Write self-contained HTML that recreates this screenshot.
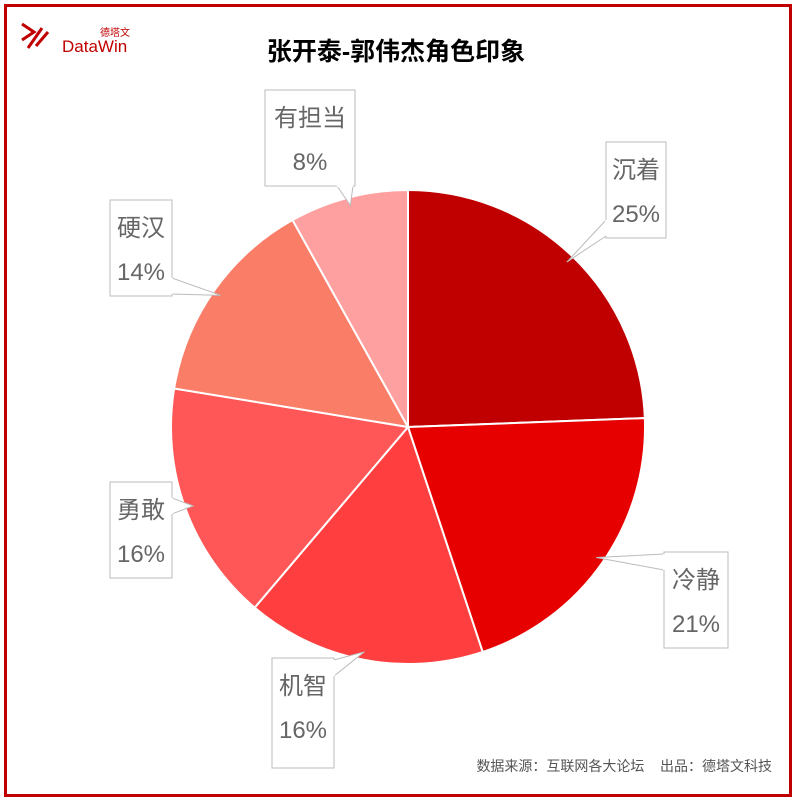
<!DOCTYPE html>
<html><head><meta charset="utf-8"><style>
body{margin:0;width:793px;height:798px;background:#fff;font-family:"Liberation Sans","Noto Sans CJK SC",sans-serif;}
#frame{position:absolute;left:4px;top:4px;width:782px;height:787px;border:3px solid #C00000;box-sizing:content-box;}
</style></head><body>
<div id="frame"></div>
<svg width="793" height="798" style="position:absolute;left:0;top:0">
<g>
<path d="M22 24 L34 32 L22 40 M28 48 L42 28 M36 46 L48 32" stroke="#C00000" stroke-width="3" fill="none"/>
<text x="100" y="36" font-size="10" fill="#C00000" font-family="Noto Sans CJK SC,sans-serif">德塔文</text>
<text x="62" y="52" font-size="17" fill="#C00000">DataWin</text>
</g>
<text x="396" y="60" text-anchor="middle" font-size="25" font-weight="bold" fill="#000">张开泰-郭伟杰角色印象</text>
<g id="slices"></g>
<g id="labels"></g>
<text x="772" y="771" text-anchor="end" font-size="14" fill="#555" style="white-space:pre">数据来源：互联网各大论坛    出品：德塔文科技</text>
</svg>
<script>
const categories=["沉着","冷静","机智","勇敢","硬汉","有担当"];
const values=[24.4,20.5,16.3,16.4,14.3,8.1];
const printed=["25%","21%","16%","16%","14%","8%"];
const colors=["#C00000","#E60000","#FF3F3F","#FF5757","#FA7D68","#FFA0A0"];
const boxes=[[606,142,60,96],[664,552,64,96],[272,658,62,110],[110,482,62,96],[110,200,62,96],[265,90,90,96]];
const cx=408,cy=427,r=237;
const ns="http://www.w3.org/2000/svg";
const total=values.reduce((a,b)=>a+b,0);
function pt(a,rr){return [cx+rr*Math.sin(a),cy-rr*Math.cos(a)];}
let a0=0;
const sg=document.getElementById('slices'),lg=document.getElementById('labels');
values.forEach((v,i)=>{
  const a1=a0+v/total*2*Math.PI;
  const p0=pt(a0,r),p1=pt(a1,r);
  const p=document.createElementNS(ns,'path');
  p.setAttribute('d',`M${cx} ${cy} L${p0[0]} ${p0[1]} A${r} ${r} 0 ${a1-a0>Math.PI?1:0} 1 ${p1[0]} ${p1[1]} Z`);
  p.setAttribute('fill',colors[i]);p.setAttribute('stroke','#fff');p.setAttribute('stroke-width','2');
  
  
  sg.appendChild(p);
  const mid=(a0+a1)/2, tip=pt(mid,r-8);
  const b=boxes[i];
  const bcx=b[0]+b[2]/2,bcy=b[1]+b[3]/2;
  let q1,q2;
  if(Math.abs(tip[0]-bcx)/b[2] > Math.abs(tip[1]-bcy)/b[3]){
    const ex=tip[0]>bcx?b[0]+b[2]:b[0];const yy=Math.max(b[1]+10,Math.min(b[1]+b[3]-10,tip[1]));
    q1=[ex,yy-8];q2=[ex,yy+8];
  } else {
    const ey=tip[1]>bcy?b[1]+b[3]:b[1];const xx=Math.max(b[0]+10,Math.min(b[0]+b[2]-10,tip[0]));
    q1=[xx-8,ey];q2=[xx+8,ey];
  }
  const g=document.createElementNS(ns,'g');
  
  
  g.innerHTML=`<path d="M${q1[0]} ${q1[1]} L${tip[0]} ${tip[1]} L${q2[0]} ${q2[1]}" fill="#fff" stroke="#bbb"/>
<rect x="${b[0]}" y="${b[1]}" width="${b[2]}" height="${b[3]}" fill="#fff" stroke="#bbb"/>
<path d="M${q1[0]} ${q1[1]} L${q2[0]} ${q2[1]}" stroke="#fff" stroke-width="2"/>
<text x="${b[0]+b[2]/2}" y="${b[1]+36}" text-anchor="middle" font-size="24" fill="#666">${categories[i]}</text>
<text x="${b[0]+b[2]/2}" y="${b[1]+80}" text-anchor="middle" font-size="24" fill="#666">${printed[i]}</text>`;
  lg.appendChild(g);
  a0=a1;
});
</script>
</body></html>
